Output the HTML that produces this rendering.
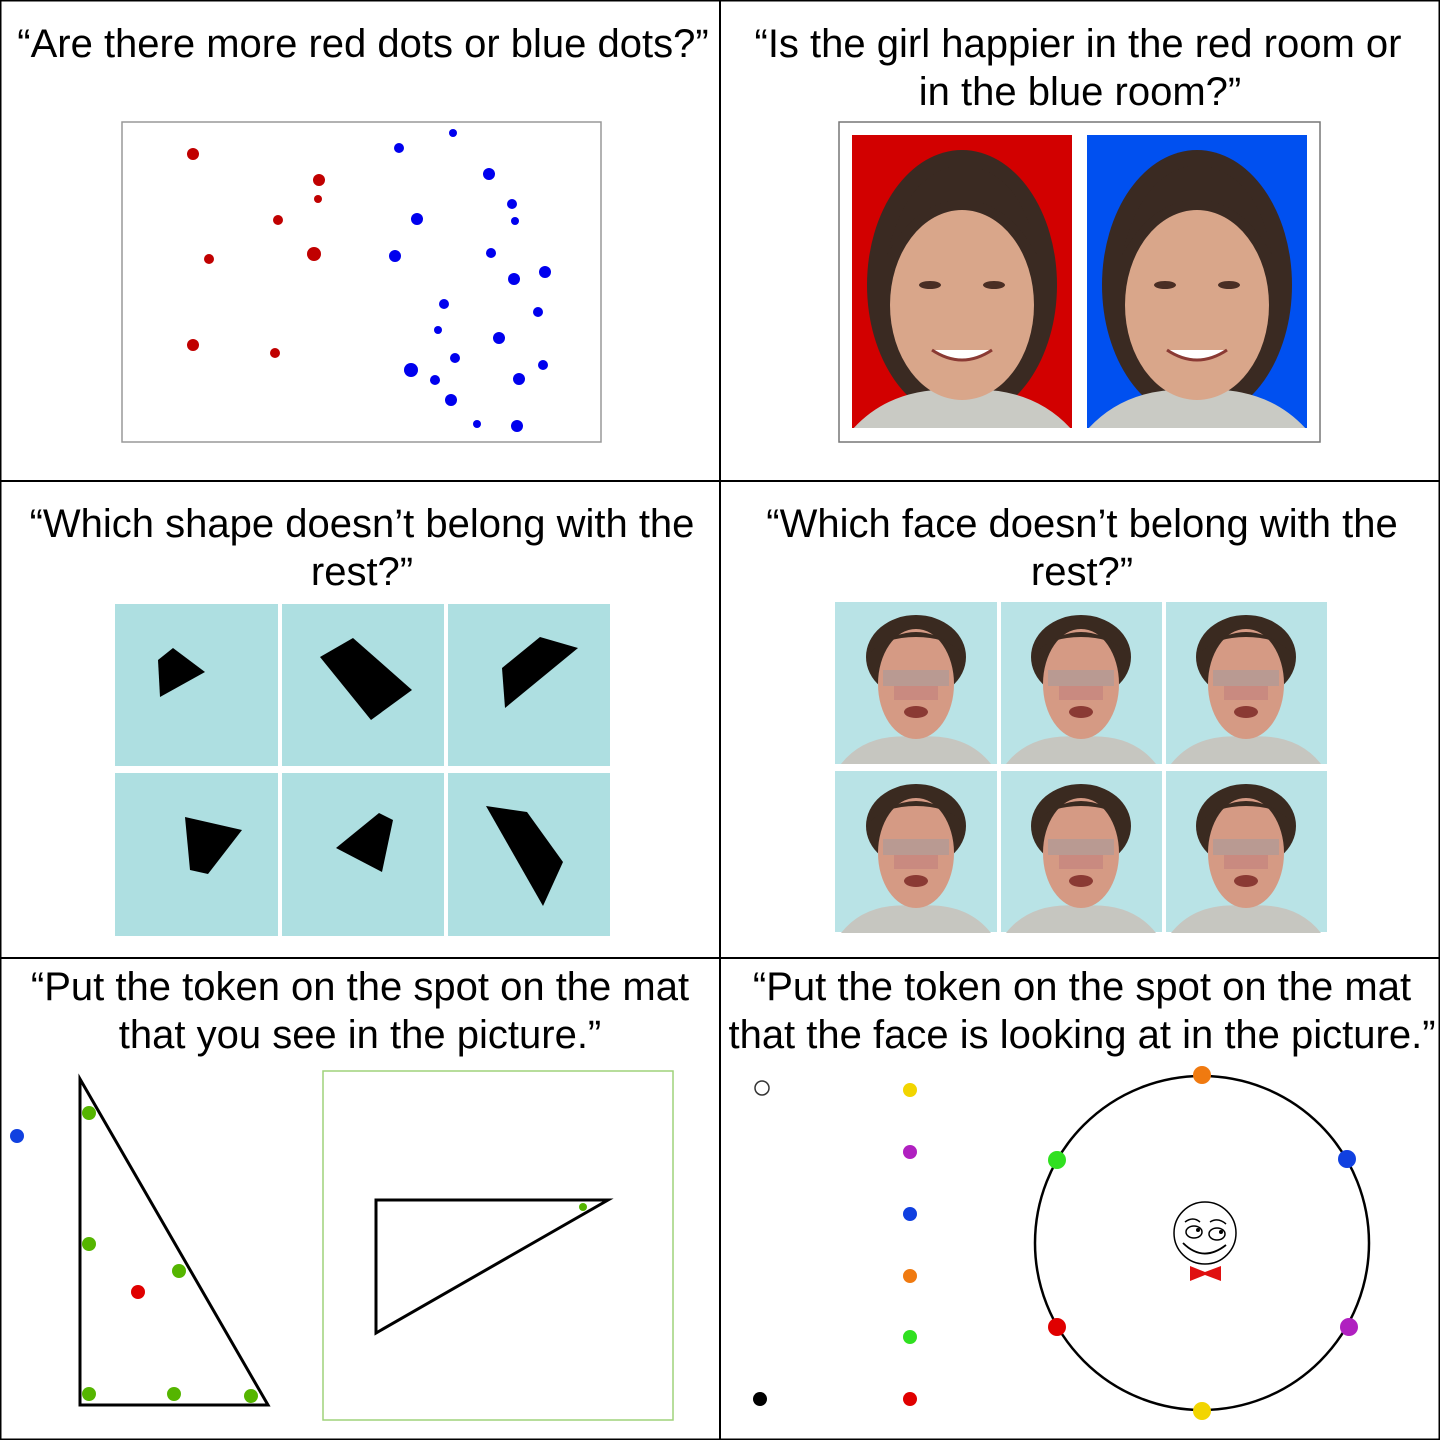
<!DOCTYPE html><html><head><style>body{margin:0;background:#fff}svg text{font-family:"Liberation Sans",Helvetica,sans-serif;font-size:40px;text-anchor:middle;fill:#000}</style></head><body>
<svg width="1440" height="1440" xmlns="http://www.w3.org/2000/svg">
<defs>
<g id="girl">
<ellipse cx="0" cy="30" rx="95" ry="135" fill="#3a2a22"/>
<path d="M-110 175 Q-70 130 0 135 Q70 130 110 175Z" fill="#c9cac4"/>
<ellipse cx="0" cy="50" rx="72" ry="95" fill="#d9a68a"/>
<path d="M-75 0 Q-55 -85 0 -90 Q60 -85 75 0 Q45 -55 0 -55 Q-45 -55 -75 0Z" fill="#3a2a22"/>
<ellipse cx="-32" cy="30" rx="11" ry="4" fill="#4a2e24"/><ellipse cx="32" cy="30" rx="11" ry="4" fill="#4a2e24"/>
<path d="M-30 95 Q0 115 30 95" fill="#fff" stroke="#8a3a34" stroke-width="3"/>
</g>
<g id="man">
<ellipse cx="0" cy="-25" rx="50" ry="42" fill="#3a2a20"/>
<path d="M-75 82 Q-50 50 0 55 Q50 50 75 82Z" fill="#c6c6c0"/>
<ellipse cx="0" cy="2" rx="38" ry="55" fill="#d59a84"/>
<path d="M-45 -30 Q0 -70 45 -30 Q30 -45 0 -45 Q-30 -45 -45 -30Z" fill="#3a2a20"/>
<rect x="-33" y="-12" width="66" height="16" fill="#b99a92"/>
<rect x="-22" y="4" width="44" height="14" fill="#c98a80"/>
<ellipse cx="0" cy="30" rx="12" ry="6" fill="#8a3a34"/>
</g>
</defs>
<rect x="0.5" y="0.5" width="1439" height="1439" fill="none" stroke="#000" stroke-width="2"/>
<line x1="720" y1="0" x2="720" y2="1440" stroke="#000" stroke-width="2"/>
<line x1="0" y1="481" x2="1440" y2="481" stroke="#000" stroke-width="2"/>
<line x1="0" y1="958" x2="1440" y2="958" stroke="#000" stroke-width="2"/>
<text x="363" y="57">“Are there more red dots or blue dots?”</text>
<text x="1078" y="57">“Is the girl happier in the red room or</text>
<text x="1080" y="105">in the blue room?”</text>
<text x="362" y="537">“Which shape doesn’t belong with the</text>
<text x="362" y="585">rest?”</text>
<text x="1082" y="537">“Which face doesn’t belong with the</text>
<text x="1082" y="585">rest?”</text>
<text x="360" y="1000">“Put the token on the spot on the mat</text>
<text x="360" y="1048">that you see in the picture.”</text>
<text x="1082" y="1000">“Put the token on the spot on the mat</text>
<text x="1082" y="1048">that the face is looking at in the picture.”</text>
<rect x="122" y="122" width="479" height="320" fill="none" stroke="#999" stroke-width="1.5"/>
<g fill="#c00000"><circle cx="193" cy="154" r="6"/><circle cx="319" cy="180" r="6"/><circle cx="318" cy="199" r="4"/><circle cx="278" cy="220" r="5"/><circle cx="314" cy="254" r="7"/><circle cx="209" cy="259" r="5"/><circle cx="193" cy="345" r="6"/><circle cx="275" cy="353" r="5"/></g>
<g fill="#0000ee"><circle cx="453" cy="133" r="4"/><circle cx="399" cy="148" r="5"/><circle cx="489" cy="174" r="6"/><circle cx="512" cy="204" r="5"/><circle cx="515" cy="221" r="4"/><circle cx="417" cy="219" r="6"/><circle cx="395" cy="256" r="6"/><circle cx="491" cy="253" r="5"/><circle cx="514" cy="279" r="6"/><circle cx="545" cy="272" r="6"/><circle cx="444" cy="304" r="5"/><circle cx="538" cy="312" r="5"/><circle cx="438" cy="330" r="4"/><circle cx="499" cy="338" r="6"/><circle cx="455" cy="358" r="5"/><circle cx="543" cy="365" r="5"/><circle cx="411" cy="370" r="7"/><circle cx="435" cy="380" r="5"/><circle cx="519" cy="379" r="6"/><circle cx="451" cy="400" r="6"/><circle cx="477" cy="424" r="4"/><circle cx="517" cy="426" r="6"/></g>
<rect x="839" y="122" width="481" height="320" fill="none" stroke="#777" stroke-width="1.5"/>
<rect x="852" y="135" width="220" height="293" fill="#d20000"/>
<rect x="1087" y="135" width="220" height="293" fill="#0050f0"/>
<svg x="852" y="135" width="220" height="293"><use href="#girl" x="110" y="120"/></svg>
<svg x="1087" y="135" width="220" height="293"><use href="#girl" x="110" y="120"/></svg>
<g fill="#aedfe1"><rect x="115" y="604" width="163" height="162"/><rect x="282" y="604" width="162" height="162"/><rect x="448" y="604" width="162" height="162"/><rect x="115" y="773" width="163" height="163"/><rect x="282" y="773" width="162" height="163"/><rect x="448" y="773" width="162" height="163"/></g>
<g fill="#000"><polygon points="158,660 173,648 205,672 160,697"/><polygon points="320,657 353,638 412,690 371,720"/><polygon points="502,668 540,637 578,648 505,708"/><polygon points="185,817 242,830 208,874 190,870"/><polygon points="336,848 379,813 393,820 382,872"/><polygon points="486,806 527,812 563,862 543,906"/></g>
<g fill="#b9e3e6"><rect x="835" y="602" width="162" height="162"/><rect x="1001" y="602" width="161" height="162"/><rect x="1166" y="602" width="161" height="162"/><rect x="835" y="771" width="162" height="161"/><rect x="1001" y="771" width="161" height="161"/><rect x="1166" y="771" width="161" height="161"/></g>
<use href="#man" x="916" y="682"/><use href="#man" x="1081" y="682"/><use href="#man" x="1246" y="682"/>
<use href="#man" x="916" y="851"/><use href="#man" x="1081" y="851"/><use href="#man" x="1246" y="851"/>
<circle cx="17" cy="1136" r="7" fill="#1040e0"/>
<polygon points="80,1079 80,1405 268,1405" fill="none" stroke="#000" stroke-width="3"/>
<g fill="#55b500"><circle cx="89" cy="1113" r="7"/><circle cx="89" cy="1244" r="7"/><circle cx="179" cy="1271" r="7"/><circle cx="89" cy="1394" r="7"/><circle cx="174" cy="1394" r="7"/><circle cx="251" cy="1396" r="7"/><circle cx="583" cy="1207" r="4"/></g>
<circle cx="138" cy="1292" r="7" fill="#e00000"/>
<rect x="323" y="1071" width="350" height="349" fill="none" stroke="#9fd27a" stroke-width="1.5"/>
<polygon points="376,1200 608,1200 376,1333" fill="none" stroke="#000" stroke-width="3"/>
<circle cx="762" cy="1088" r="7" fill="none" stroke="#333" stroke-width="1.5"/>
<circle cx="760" cy="1399" r="7" fill="#000"/>
<circle cx="910" cy="1090" r="7" fill="#f2d500"/><circle cx="910" cy="1152" r="7" fill="#b020c0"/><circle cx="910" cy="1214" r="7" fill="#1040e0"/><circle cx="910" cy="1276" r="7" fill="#f07a10"/><circle cx="910" cy="1337" r="7" fill="#30e020"/><circle cx="910" cy="1399" r="7" fill="#e00000"/>
<circle cx="1202" cy="1243" r="167" fill="none" stroke="#000" stroke-width="2.5"/>
<circle cx="1202" cy="1075" r="9" fill="#f07a10"/><circle cx="1347" cy="1159" r="9" fill="#1040e0"/><circle cx="1057" cy="1160" r="9" fill="#30e020"/><circle cx="1057" cy="1327" r="9" fill="#e00000"/><circle cx="1349" cy="1327" r="9" fill="#b020c0"/><circle cx="1202" cy="1411" r="9" fill="#f2d500"/>
<circle cx="1205" cy="1233" r="31" fill="#fff" stroke="#000" stroke-width="1.5"/>
<ellipse cx="1194" cy="1232" rx="8" ry="6" fill="none" stroke="#000" stroke-width="1.5"/><ellipse cx="1217" cy="1234" rx="8" ry="6" fill="none" stroke="#000" stroke-width="1.5"/>
<circle cx="1198" cy="1230" r="2" fill="#000"/><circle cx="1221" cy="1232" r="2" fill="#000"/>
<path d="M1185 1222 Q1193 1216 1200 1222 M1210 1222 Q1218 1217 1226 1224" fill="none" stroke="#000" stroke-width="1.5"/>
<path d="M1183 1243 Q1203 1263 1226 1245" fill="none" stroke="#000" stroke-width="1.8"/>
<path d="M1190 1266 L1205 1272 L1221 1266 L1221 1281 L1205 1275 L1190 1281Z" fill="#e01010"/>
</svg></body></html>
